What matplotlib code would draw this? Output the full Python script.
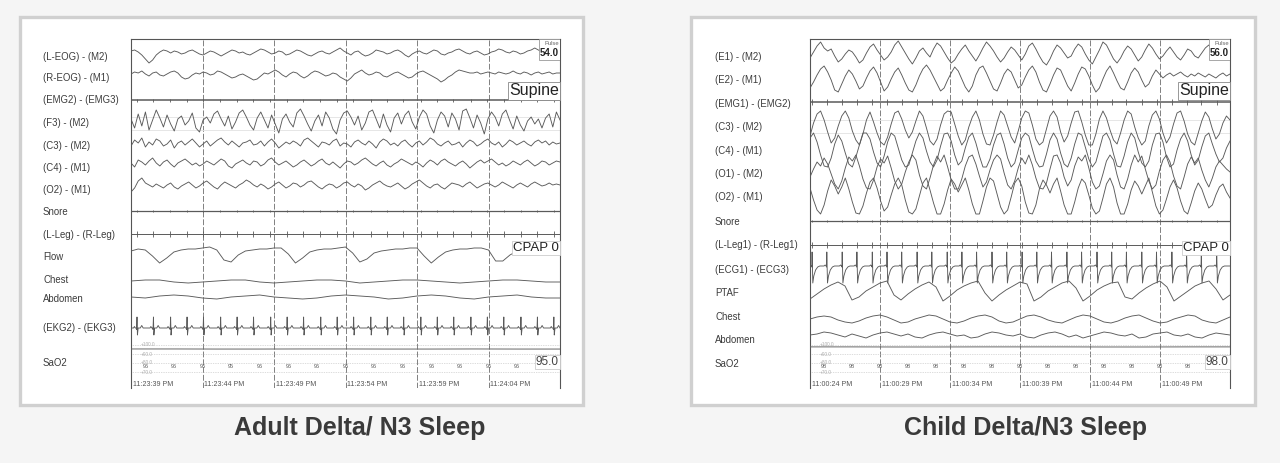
#!/usr/bin/env python3
"""
Two polysomnography epochs side by side: adult vs child delta / N3 sleep.
"""

import numpy as np
import matplotlib
matplotlib.use('Agg')
import matplotlib.pyplot as plt
from matplotlib.patches import Rectangle

W, H = 1280, 463
plt.rcParams['font.family'] = ['Liberation Sans', 'DejaVu Sans']

TRACE = '#5a5a5a'
LABEL = '#3c3c3c'

# ---------------- adult epoch (left) ----------------
adult_title = 'Adult Delta/ N3 Sleep'
adult_labels = ['(L-EOG) - (M2)', '(R-EOG) - (M1)', '(EMG2) - (EMG3)', '(F3) - (M2)',
                '(C3) - (M2)', '(C4) - (M1)', '(O2) - (M1)', 'Snore', '(L-Leg) - (R-Leg)',
                'Flow', 'Chest', 'Abdomen', '(EKG2) - (EKG3)', 'SaO2']
adult_times = ['11:23:39 PM', '11:23:44 PM', '11:23:49 PM', '11:23:54 PM', '11:23:59 PM', '11:24:04 PM']
adult_pulse = '54.0'
adult_spo2_now = '95.0'

adult_l_eog = [2, 3, 1, -2, -6, -10, -7, -2, 1, 3, 2, 0, 2, 1, -1, 0, 2, 3, 1, -1, -2, 0, 2, 1,
               -1, -3, -1, 1, 3, 2, 0, 1, -1, -2, 0, 2, 4, 3, 1, -1, 0, 2, 1, -2, -1, 1, 3, 2,
               0, -2, -3, -1, 1, 2, 0, -1, 1, 3, 5, 2, 0, -2, 1, 2, -1, -3, -2, 0, 3, 2, 1, -1,
               0, 2, 3, 1, -2, -4, -1, 1, 2, 0, -1, 1, 3, 2, -1, -2, 0, 1, 3, 4, 2, 0, -1, 1,
               2, 0, -2, -1, 1, 2, 4, 3, 1, 0, 2, 1, -1, 0, 2, 3, 5, 3, 1, 2, 4, 3, 1, 2]
adult_r_eog = [1, 3, 2, 4, 1, -1, 2, 3, 0, -1, 1, 3, 4, 2, -2, -4, -3, 0, 2, 1, 3, 2, 0, 1,
               4, 3, 1, -1, -3, -2, 0, 1, -1, -3, -5, -4, -1, 2, 1, 3, 5, 3, 0, -2, 1, 3, 2, -1,
               -3, -1, 2, 4, 3, 1, -1, 0, 2, 1, -2, -4, -6, -3, 1, 3, 5, 2, 0, 1, 3, 2, -1, -2,
               0, 2, 3, 1, -1, -3, -2, 1, 3, 4, 2, 0, -2, -4, -7, -5, -2, 0, 3, 5, 4, 3, 2, 2,
               3, 1, 2, 3, 2, 1, 3, 2, 1, 2, 4, 2, 1, 3, 2, 0, 2, 3, 1, 2, 3, 1, 2, 2]
adult_f3 = [3, -6, 8, -4, 10, -8, 2, 12, 4, -5, 7, -2, -9, 3, 6, -3, 1, 9, -6, -10, 2, 5, -1, 8,
            11, 3, -4, 6, -7, 0, 9, 12, 5, -3, -8, 4, 10, 2, -6, 7, -2, -11, 3, 8, 0, -5, 9, 13,
            6, -2, -9, 1, 7, -4, 10, 4, -7, -12, 2, 9, 11, 5, -3, 6, -8, -1, 10, 12, 3, -6, 8, -3,
            -10, 4, 9, -2, 7, 11, 0, -7, 5, 12, 8, -4, -11, 2, 10, 6, -5, 9, 3, -8, 11, 13, 4, -6,
            7, -1, -12, 3, 10, 5, -4, 8, 12, 2, -7, 6, -3, -9, 1, 5, -2, 3, -6, 4, 8, -5, 10, 2]
adult_c3 = [-2, 4, 1, 6, -3, 2, -1, 5, 3, -2, 0, 4, -4, 1, 3, -1, 2, 5, 1, -3, 0, 3, -2, 1,
            4, 6, 2, -1, 3, 0, -3, 1, 2, 4, -1, 0, 3, -2, 2, 5, 1, -4, -1, 2, 0, 3, 1, -2,
            4, 6, 3, 0, -3, 2, 1, -1, 3, 5, -2, 1, 0, -3, 2, 4, 1, -1, 3, 0, -4, 2, 5, 3,
            -1, 1, -2, 2, 4, 0, -3, 1, 3, -1, 2, 6, 4, 0, -2, 1, 3, -1, 0, 2, -3, 1, 4, 2,
            -2, 0, 3, 5, 1, -1, 2, -3, 0, 4, 2, -1, 1, 3, 0, -2, 2, 4, 1, 3, -1, 2, 0, 1]
adult_c4 = [1, -3, 4, 2, -1, 3, 6, 1, -2, 2, 4, 0, -3, 1, 3, 5, 2, -1, 1, -2, 0, 3, 1, -1,
            2, 5, 3, -2, -4, 0, 2, 4, 1, -1, 3, 2, -2, 0, 4, 6, 2, -1, 1, 3, 0, -3, -1, 2,
            4, 1, -2, 0, 3, 5, 1, -1, 2, -1, -4, 0, 3, 2, -1, 1, 4, 6, 3, 0, -2, 1, 3, -1,
            -3, 0, 2, 5, 3, 1, -1, 2, 0, -3, 1, 4, 2, -1, 3, 5, 2, 0, -2, 1, 3, 0, -4, -1,
            2, 4, 1, 3, 5, 2, -1, 1, -2, 0, 3, 1, -1, 2, 4, 1, -2, 0, 3, 2, -1, 1, 3, 2]
adult_o2 = [-6, -2, 5, 8, 3, 1, -1, 2, 0, -2, 1, 3, -1, -3, 0, 2, 4, 1, -2, 0, 3, 5, 2, -1,
            -3, 1, 4, 2, 0, -2, 1, 3, 6, 4, 1, -1, 2, 0, -3, -1, 2, 4, 1, -2, 0, 3, 2, -1,
            1, 4, 5, 2, -1, -3, 0, 2, 1, -2, 0, 3, 4, 1, -1, 2, 0, -4, -2, 1, 3, 5, 2, 0,
            -1, 1, 3, 0, -3, -1, 2, 4, 6, 3, 0, -2, 1, 2, -1, -3, 0, 3, 2, 1, -1, 2, 4, 1,
            -2, 0, 2, 3, 1, -1, 1, 4, 2, 0, -2, 1, 3, 1, -1, 2, 4, 2, 0, 1, 3, 1, 2, 1]
# flow sampled every 0.5 s
adult_flow = [0, 2, 1, -5, -12, -7, -1, 1, 2, 2, 3, 4, 1, -9, -11, -4, 0, 1, 2, 2, 3, 3, -3, -12,
              -7, -1, 1, 2, 2, 3, 4, -2, -11, -8, -2, 0, 1, 2, 2, 3, 3, -5, -12, -6, -1, 1, 2, 2,
              3, 3, 1, -10, -10, -4, 0, 1, 2, 2, 3, 3, 3]
# chest / abdomen sampled every 1 s
adult_chest = [0, 1, 1, -1, -2, -1, 0, 1, 1, -1, -2, -1, 0, 1, 1, 0, -2, -1, 0, 1, 1, 0, -1, -2,
               -1, 0, 1, 1, 0, -1, -1]
adult_abdomen = [0, -1, 1, 2, 1, -1, -2, 0, 1, 2, 0, -1, -2, -1, 1, 2, 1, 0, -2, -1, 1, 2, 1, -1,
                 -2, 0, 1, 2, 0, -1, -1]
adult_beats = [0.4, 1.55, 2.75, 3.9, 5.05, 6.25, 7.4, 8.55, 9.75, 10.9, 12.05, 13.25, 14.4,
               15.55, 16.75, 17.9, 19.05, 20.25, 21.4, 22.55, 23.75, 24.9, 26.05, 27.25, 28.4, 29.55]
adult_ecg_dt = [-0.22, -0.16, -0.1, -0.04, -0.01, 0.02, 0.05, 0.1, 0.25, 0.35, 0.45]
adult_ecg_shape = [0, 1.5, 0, 0, -1.5, 11, -7, 0, 0, 2.5, 0]
adult_spo2 = [95.6, 95.6, 95.5, 95.5, 95.6, 95.6, 95.5, 95.5, 95.6, 95.5, 95.5]
adult_spo2_marks = ['96', '96', '96', '95', '96', '96', '96', '96', '96', '96', '96', '96', '96', '96']

# ---------------- child epoch (right) ----------------
child_title = 'Child Delta/N3 Sleep'
child_labels = ['(E1) - (M2)', '(E2) - (M1)', '(EMG1) - (EMG2)', '(C3) - (M2)', '(C4) - (M1)',
                '(O1) - (M2)', '(O2) - (M1)', 'Snore', '(L-Leg1) - (R-Leg1)', '(ECG1) - (ECG3)',
                'PTAF', 'Chest', 'Abdomen', 'SaO2']
child_times = ['11:00:24 PM', '11:00:29 PM', '11:00:34 PM', '11:00:39 PM', '11:00:44 PM', '11:00:49 PM']
child_pulse = '56.0'
child_spo2_now = '98.0'

child_e1 = [-4, 2, 8, 12, 6, 3, 5, -2, -8, -5, 0, 4, 2, -3, -9, -6, 1, 7, 10, 4, -1, -6, -3, 2,
            9, 13, 7, 1, -5, -10, -4, 3, 6, 1, -3, 5, 11, 8, 2, -4, -9, -6, 0, 5, 9, 3, -2, -7,
            -1, 6, 12, 8, 3, -3, -8, -4, 2, 7, 4, -1, -6, 0, 8, 11, 5, -2, -8, -11, -5, 3, 9, 6,
            1, -4, -2, 5, 10, 7, 0, -6, -10, -3, 4, 12, 9, 2, -5, -9, -4, 3, 8, 5, -1, -7, -3, 4,
            10, 6, 0, -5, -2, 3, 7, 2, -3, -6, -1, 5, 3, -2, -4, 1, 6, 9, 4, 0, 2, 7, 5, 3]
child_e2 = [-10, -4, 3, 9, 12, 6, -2, -12, -14, -6, 2, 8, 4, -3, -11, -8, 0, 7, 11, 5, -4, -13, -9, -1,
            6, 10, 3, -5, -12, -14, -7, 2, 9, 13, 8, 1, -6, -13, -10, -2, 5, 11, 7, -1, -9, -14, -8, 3,
            10, 12, 5, -3, -11, -13, -5, 4, 9, 6, -2, -10, -7, 1, 8, 12, 6, -4, -12, -14, -6, 3, 10, 8,
            0, -8, -13, -5, 4, 11, 9, 2, -7, -14, -10, -1, 7, 12, 5, -3, -10, -12, -4, 5, 10, 6, -2, -9,
            -6, 2, 8, 4, 0, 3, 5, 2, 4, 6, 3, 1, 4, 2, 5, 3, 1, 4, 2, 0, 3, 5, 2, 4]
child_c3 = [-8, 5, 14, 18, 8, -4, -15, -10, 2, 12, 20, 10, -3, -12, -18, -6, 8, 16, 6, -5, -14, -20, -9, 4,
            15, 19, 9, -2, -10, -4, 7, 17, 12, 0, -13, -20, -11, 3, 14, 20, 16, 4, -8, -17, -12, 1, 11, 18,
            8, -6, -16, -20, -7, 6, 17, 13, 2, -9, -15, -3, 10, 19, 15, 3, -11, -19, -14, -1, 12, 20, 11, -4,
            -14, -8, 5, 16, 18, 6, -7, -18, -20, -6, 9, 18, 10, -2, -12, -16, -5, 8, 20, 14, 1, -10, -19, -13,
            2, 13, 19, 9, -5, -15, -9, 4, 15, 17, 7, -6, -14, -18, -5, 7, 16, 11, -1, -11, -6, 5, 12, 8]
child_c4 = [12, 18, 8, -5, -16, -20, -8, 6, 15, 9, -3, -14, -19, -7, 5, 17, 20, 11, -2, -13, -18, -6, 8, 18,
            14, 2, -10, -19, -15, -3, 9, 19, 12, -1, -12, -20, -10, 4, 16, 20, 9, -5, -15, -11, 2, 13, 19, 7,
            -6, -17, -20, -9, 5, 15, 18, 6, -8, -18, -13, 0, 12, 20, 14, 1, -11, -19, -16, -4, 10, 19, 11, -3,
            -14, -20, -8, 6, 17, 15, 3, -9, -18, -12, 1, 14, 20, 10, -4, -16, -19, -6, 8, 18, 12, -2, -13, -20,
            -11, 5, 16, 19, 8, -7, -17, -14, 0, 11, 18, 9, -5, -15, -10, 3, 14, 17, 6, -4, -12, -8, 2, 9]
child_o1 = [-5, 3, 10, 6, 14, 8, -2, -12, -18, -9, 4, 15, 11, 17, 6, -7, -16, -20, -8, 5, 13, 9, 16, 4,
            -9, -17, -12, 0, 10, 18, 12, -3, -14, -19, -6, 7, 16, 10, 18, 5, -8, -18, -20, -7, 6, 15, 19, 8,
            -4, -15, -10, 2, 12, 20, 13, -1, -13, -19, -9, 4, 14, 8, 17, 7, -6, -16, -20, -11, 3, 16, 19, 9,
            -5, -14, -8, 6, 15, 11, 18, 4, -10, -19, -14, -2, 11, 20, 12, -3, -15, -20, -7, 7, 17, 10, 16, 3,
            -9, -17, -13, 1, 12, 19, 10, -4, -14, -18, -5, 8, 15, 9, 14, 2, -8, -15, -6, 5, 11, 7, 3, 0]
child_o2 = [8, -4, -14, -20, -9, 5, 16, 10, 2, 9, 18, 7, -6, -17, -20, -10, 3, 14, 19, 8, -5, -15, -11, 1,
            12, 20, 11, -4, -16, -20, -13, 0, 13, 18, 6, -7, -18, -20, -8, 6, 17, 12, 4, 11, 19, 6, -8, -19,
            -20, -5, 9, 18, 15, 2, -11, -20, -14, -1, 13, 20, 10, -6, -17, -20, -9, 7, 16, 11, 3, 12, 19, 5,
            -9, -19, -20, -6, 8, 17, 13, 1, -12, -20, -15, -2, 12, 19, 9, -7, -18, -20, -8, 6, 15, 10, 2, 10,
            18, 4, -10, -18, -14, -3, 9, 16, 8, -5, -15, -19, -7, 5, 13, 7, -3, -12, -9, 1, 9, 12, 4, -2]
# PTAF / chest / abdomen sampled every 0.5 s
child_ptaf = [-8, -3, 2, 6, 9, 5, -9, -6, 0, 4, 8, 10, -4, -9, -3, 2, 6, 9, 4, -10, -5, 1, 5, 8,
              10, -2, -10, -4, 1, 5, 9, 7, -10, -6, 0, 4, 8, 10, 3, -10, -5, 1, 5, 8, 9, -6, -8, -2,
              3, 7, 10, 4, -10, -5, 0, 5, 8, 10, 2, -9, -4]
child_chest = [0, 2, 3, 2, -1, -3, -4, -2, 1, 3, 4, 2, -1, -4, -3, 0, 2, 4, 3, 0, -3, -4, -2, 1,
               3, 4, 2, -2, -4, -3, 0, 3, 4, 2, -1, -3, -4, -1, 2, 4, 3, 0, -3, -4, -2, 1, 3, 4,
               1, -2, -4, -3, 0, 2, 4, 3, -1, -3, -4, -1, 2]
child_abdomen = [0, 1, 3, 2, 0, -2, 1, -1, -3, 0, 2, 3, 1, -1, 1, -2, -3, 0, 2, 3, 1, -1, 0, -3,
                 -2, 1, 3, 2, 0, -1, 1, -2, -3, 0, 2, 3, 1, -2, 0, -3, -1, 1, 3, 2, 0, -1, 1, -3,
                 -2, 1, 2, 3, 0, -1, 1, -2, -3, 0, 2, 1, 0]
child_beats = [0.15, 1.2, 2.3, 3.35, 4.45, 5.5, 6.55, 7.65, 8.7, 9.8, 10.85, 11.9, 13.0, 14.05,
               15.15, 16.2, 17.25, 18.35, 19.4, 20.5, 21.55, 22.6, 23.7, 24.75, 25.85, 26.9, 27.95, 29.05]
child_ecg_dt = [-0.2, -0.12, -0.05, -0.02, 0.0, 0.05, 0.12, 0.25, 0.4, 0.55]
child_ecg_shape = [0, 1, 0, -1, 14, -17, -10, -4, -1, 0]
child_spo2 = [97.9, 97.9, 97.8, 97.8, 97.9, 97.9, 97.9, 97.8, 97.8, 97.9, 97.9]
child_spo2_marks = ['98', '98', '98', '98', '98', '98', '98', '98', '98', '98', '98', '98', '98', '98']


def fbox(x0, y0, x1, y1):
    return [x0 / W, 1 - y1 / H, (x1 - x0) / W, (y1 - y0) / H]


def tgrid(vals):
    return np.linspace(0, 30, len(vals))


def ecg_trace(beats, dt, shape):
    t, v = [0.0], [0.0]
    for b in beats:
        for d, s in zip(dt, shape):
            if 0 <= b + d <= 30:
                t.append(b + d)
                v.append(s)
    t.append(30.0)
    v.append(0.0)
    return np.array(t), np.array(v)


def draw_panel(fig, frame, inner, label_x, labels, label_y, title, title_x, times):
    fig.patches.append(Rectangle((frame[0] / W, 1 - frame[3] / H), (frame[2] - frame[0]) / W,
                                 (frame[3] - frame[1]) / H, transform=fig.transFigure,
                                 fc='white', ec='#d0d0d0', lw=2.4, zorder=-5))
    ax = fig.add_axes(fbox(*inner))
    ax.set_xlim(0, 30)
    ax.set_ylim(388, 39)
    ax.patch.set_alpha(0)
    ax.set_xticks([])
    ax.set_yticks([])
    ax.spines['bottom'].set_visible(False)
    for s in ('left', 'top', 'right'):
        ax.spines[s].set_color('#555555')
        ax.spines[s].set_linewidth(0.8)
    for k in range(1, 6):
        ax.axvline(5 * k, color='#808080', lw=0.7, ls=(0, (6, 2)), zorder=1)
    for k, lab in enumerate(times):
        ax.text(5 * k + 0.12, 385, lab, fontsize=5.1, color='#555555', ha='left', va='center')
    # SaO2 scale
    for lev, yy in zip(['+100.0', '+90.0', '+80.0', '+70.0'], [345, 354, 363, 372]):
        ax.axhline(yy, color='#bbbbbb', lw=0.5, ls=(0, (1, 1.5)), zorder=1)
        ax.text(0.7, yy, lev, fontsize=3.4, color='#aaaaaa', ha='left', va='center')
    for lab, yy in zip(labels, label_y):
        fig.text(label_x / W, 1 - yy / H, lab, fontsize=6.9, color=LABEL, ha='left', va='center')
    fig.text(title_x / W, 1 - 428 / H, title, fontsize=18, fontweight='bold', color='#3a3a3a',
             ha='center', va='center')
    return ax


def trace(ax, vals, center, clip=None, lw=0.65):
    v = np.asarray(vals, dtype=float)
    if clip is not None:
        v = np.clip(v, -clip, clip)
    ax.plot(tgrid(v), center - v, color=TRACE, lw=lw, zorder=3)


def beat_ticks(ax, beats, center, half, lw=0.7):
    ax.axhline(center, color=TRACE, lw=lw, zorder=3)
    ax.vlines(beats, center - half, center + half, color=TRACE, lw=0.6, zorder=3)


def badges(ax, width_px, pulse, spo2_now, supine_y, cpap_y):
    tr = ax.get_yaxis_transform()
    frac = 21 / width_px
    ax.add_patch(Rectangle((1 - frac, 39), frac, 21, transform=tr, fc='white', ec='#999999',
                           lw=0.6, zorder=6))
    ax.text(0.997, 43.5, 'Pulse', transform=tr, fontsize=4.2, color='#666666', ha='right',
            va='center', zorder=7)
    ax.text(0.997, 53, pulse, transform=tr, fontsize=7, fontweight='bold', color='#222222',
            ha='right', va='center', zorder=7)
    ax.text(0.997, supine_y, 'Supine', transform=tr, fontsize=11.5, color='#222222', ha='right',
            va='center', zorder=7,
            bbox=dict(boxstyle='square,pad=0.08', fc='white', ec='#888888', lw=0.6))
    ax.text(0.997, cpap_y, 'CPAP 0', transform=tr, fontsize=9.5, color='#222222', ha='right',
            va='center', zorder=7,
            bbox=dict(boxstyle='square,pad=0.08', fc='white', ec='#cccccc', lw=0.6))
    ax.text(0.997, 362, spo2_now, transform=tr, fontsize=8.5, color='#444444', ha='right',
            va='center', zorder=7,
            bbox=dict(boxstyle='square,pad=0.08', fc='white', ec='#cccccc', lw=0.6))


def spo2_row(ax, spo2, marks):
    ax.plot(tgrid(spo2), 345 + (100 - np.asarray(spo2)) * 0.9, color='#666666', lw=0.7, zorder=3)
    for k, m in enumerate(marks):
        ax.text(1 + 2 * k, 366.5, m, fontsize=4.0, color='#555555', ha='center', va='center')


fig = plt.figure(figsize=(W / 100, H / 100), dpi=100)
fig.patch.set_facecolor('#f5f5f5')

# adult panel
ax = draw_panel(fig, (20, 17, 583, 405), (131, 39, 560, 388), 43, adult_labels,
                [57, 78, 100, 123, 146, 168, 190, 212, 235, 257, 280, 299, 328, 363],
                adult_title, 360, adult_times)
for yy in (117, 130):
    ax.axhline(yy, color='#e2e2e2', lw=0.6, zorder=1)
trace(ax, adult_l_eog, 53)
trace(ax, adult_r_eog, 75)
beat_ticks(ax, adult_beats, 100, 1.5, lw=1.1)
trace(ax, adult_f3, 122)
trace(ax, adult_c3, 144)
trace(ax, adult_c4, 164)
trace(ax, adult_o2, 186)
beat_ticks(ax, adult_beats, 211, 1, lw=0.9)
beat_ticks(ax, adult_beats, 234, 3)
trace(ax, adult_flow, 251)
trace(ax, adult_chest, 281)
trace(ax, adult_abdomen, 297)
et, ev = ecg_trace(adult_beats, adult_ecg_dt, adult_ecg_shape)
ax.plot(et, 328 - ev, color=TRACE, lw=0.65, zorder=3)
spo2_row(ax, adult_spo2, adult_spo2_marks)
badges(ax, 429, adult_pulse, adult_spo2_now, 91, 248)

# child panel
ax = draw_panel(fig, (691, 17, 1255, 405), (810, 39, 1230, 388), 715, child_labels,
                [57, 80, 104, 127, 151, 174, 197, 222, 245, 270, 293, 317, 340, 364],
                child_title, 1025, child_times)
for yy in (120, 133):
    ax.axhline(yy, color='#e2e2e2', lw=0.6, zorder=1)
trace(ax, child_e1, 54)
trace(ax, child_e2, 78)
beat_ticks(ax, child_beats, 102, 3, lw=1.1)
trace(ax, child_c3, 128, clip=17)
trace(ax, child_c4, 150, clip=17)
trace(ax, child_o1, 172, clip=17)
trace(ax, child_o2, 196, clip=18)
beat_ticks(ax, child_beats, 221, 0.8, lw=0.9)
beat_ticks(ax, child_beats, 245, 3)
et, ev = ecg_trace(child_beats, child_ecg_dt, child_ecg_shape)
ax.plot(et, 266 - ev, color=TRACE, lw=0.65, zorder=3)
trace(ax, child_ptaf, 291)
trace(ax, child_chest, 319)
trace(ax, child_abdomen, 335)
spo2_row(ax, child_spo2, child_spo2_marks)
badges(ax, 420, child_pulse, child_spo2_now, 91, 248)

fig.savefig('out.png', dpi=100, facecolor=fig.get_facecolor())
